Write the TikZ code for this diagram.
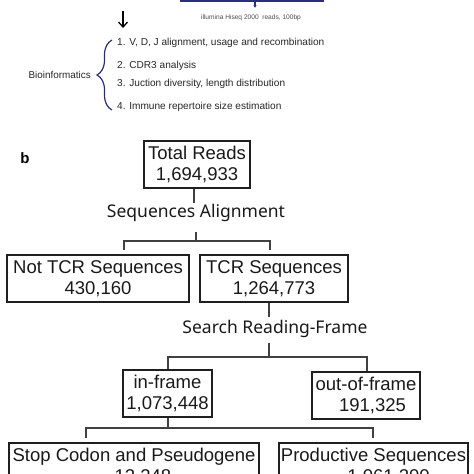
\documentclass[tikz,border=0pt]{standalone}
\usepackage{fontspec}
\setmainfont{Liberation Sans}
\newfontfamily\labelfont{Noto Sans}
\usetikzlibrary{decorations.pathreplacing,arrows.meta}
\definecolor{navy}{RGB}{44,44,125}
\begin{document}
\begin{tikzpicture}[x=1pt,y=-1pt,
  box/.style={draw=black!88,line width=1.7pt,minimum height=47pt,inner sep=0pt,align=center,
    font=\fontsize{18.5}{20.5}\selectfont,text=black!90},
  conn/.style={draw=black!75,line width=1.3pt},
  steplabel/.style={font=\labelfont\fontsize{17.5}{20}\selectfont,inner sep=0pt,text=black!90},
  item/.style={anchor=west,font=\fontsize{10.1}{11}\selectfont,inner sep=0pt,text=black!85}]
\useasboundingbox (0,0) rectangle (474,474);
\clip (0,0) rectangle (474,474);

% ---- part a (cropped) ----
\node[draw=navy,line width=2pt,minimum width=142pt,minimum height=40pt,anchor=south,inner sep=0pt] (seqbox) at (252,1.5) {};
\coordinate (tickend) at (255,8);
\draw[navy,line width=1.2pt,-{Latex[length=3pt,width=3.5pt]}] (seqbox.south -| tickend) -- (tickend);
\node[font=\fontsize{6.6}{7}\selectfont,text=black!70,inner sep=0pt] (illum) at (251,18) {illumina Hiseq 2000\ \ reads,\ 100bp};

\coordinate (arrtop) at (123,11);
\coordinate (arrbot) at (123,28);
\draw[line width=1.3pt,-{Straight Barb[length=5pt,width=9pt]}] (arrtop) -- (arrbot);

\node[anchor=east,font=\fontsize{9.9}{11}\selectfont,inner sep=0pt,text=black!85] (bio) at (91,75) {Bioinformatics};
\coordinate (brtop) at (112,40);
\coordinate (brbot) at (112,110);
\draw[navy,line width=1.2pt,decorate,decoration={brace,amplitude=15pt}] (brbot) -- (brtop);

\node[item] (i1) at (117,43) {1. V, D, J alignment, usage and recombination};
\node[item] (i2) at (117,66) {2. CDR3 analysis};
\node[item] (i3) at (117,84) {3. Juction diversity, length distribution};
\node[item] (i4) at (117,107) {4. Immune repertoire size estimation};

% ---- part b ----
\node[font=\bfseries\fontsize{15}{16}\selectfont,inner sep=0pt] (blabel) at (25,158) {b};

\node[box,minimum width=106pt] (total) at (197,164.5) {Total Reads\\1,694,933};
\node[steplabel] (align) at (196,213) {Sequences Alignment};
\node[box,minimum width=182pt] (nottcr) at (98,278.5) {Not TCR Sequences\\430,160};
\node[box,minimum width=148pt] (tcr) at (274,278.5) {TCR Sequences\\1,264,773};
\node[steplabel] (search) at (275,329) {Search Reading-Frame};
\node[box,minimum width=89pt] (inframe) at (167.5,393.5) {in-frame\\1,073,448};
\node[box,minimum width=108pt] (outframe) at (366,395.5) {out-of-frame\\\hspace*{13pt}191,325};
\node[box,minimum width=250pt] (stop) at (134,466.5) {Stop Codon and Pseudogene\\\hspace*{18pt}12,248};
\node[box,minimum width=189pt] (prod) at (373.5,466.5) {Productive Sequences\\\hspace*{30pt}1,061,200};

% connectors level 1
\coordinate (a1top) at (194,203);
\coordinate (a1bot) at (196,232);
\coordinate (bar1) at (196,241);
\coordinate (d1l) at (124,250);
\coordinate (d1r) at (270,250);
\draw[conn] (total.south -| a1top) -- (a1top);
\draw[conn] (a1bot) -- (bar1);
\draw[conn] (d1l) -- (d1l |- bar1) -- (d1r |- bar1) -- (d1r);

% level 2
\coordinate (s1top) at (269,317);
\coordinate (s1bot) at (269,343);
\coordinate (bar2) at (269,357);
\draw[conn] (tcr.south -| s1top) -- (s1top);
\draw[conn] (s1bot) -- (bar2);
\draw[conn] (inframe.north -| 168,0) -- (168,357) -- (367,357) -- (outframe.north -| 367,0);

% level 3
\coordinate (bar3) at (168,428);
\coordinate (d3l) at (86,438);
\coordinate (d3r) at (373,438);
\draw[conn] (inframe.south -| bar3) -- (bar3);
\draw[conn] (d3l) -- (d3l |- bar3) -- (d3r |- bar3) -- (d3r);
\end{tikzpicture}
\end{document}
